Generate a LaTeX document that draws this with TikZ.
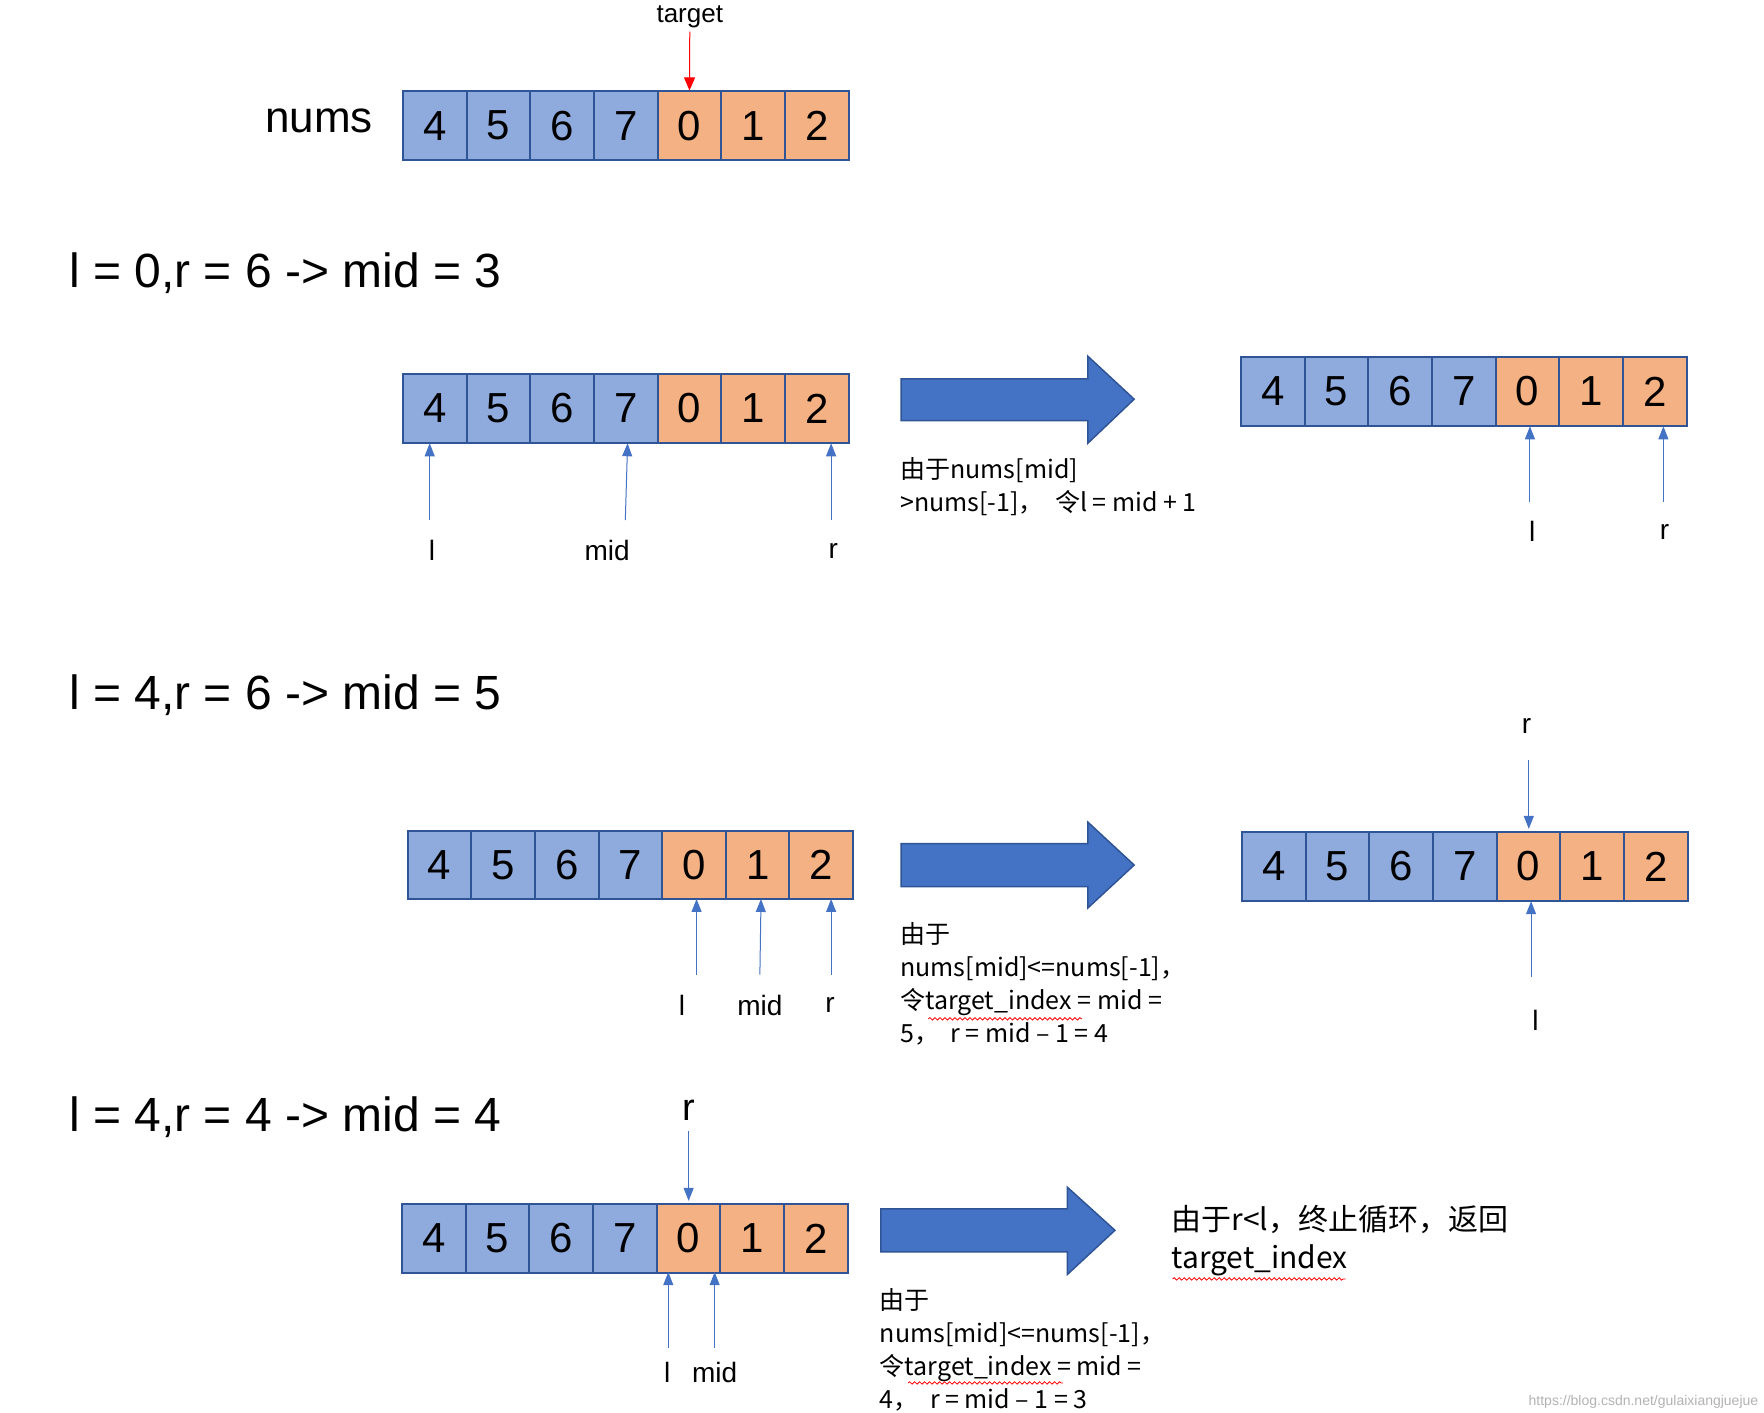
\documentclass[tikz,border=0pt]{standalone}
\usepackage{fontspec}
\setmainfont{Liberation Sans}
\newfontfamily\cjk{Noto Sans CJK SC}
\usetikzlibrary{arrows.meta,decorations.pathmorphing}
\definecolor{cb}{HTML}{8FAADC}
\definecolor{co}{HTML}{F4B183}
\definecolor{bd}{HTML}{2F5597}
\definecolor{ab}{HTML}{4472C4}
\newcommand{\myarr}[3]{%
  \foreach \v [count=\i from 0] in {4,5,6,7,0,1,2}{%
    \ifnum\i<4 \def\fc{cb}\else\def\fc{co}\fi
    \node[cell,fill=\fc,anchor=north west] (#1-\i) at ({#2-1.5+\i*56.3},#3) {\v};}}
\begin{document}
\begin{tikzpicture}[x=1.131pt,y=-1.131pt,
  cell/.style={draw=bd,line width=2pt,minimum width=63.7pt,minimum height=68.5pt,inner sep=0pt,font=\fontsize{42}{42}\selectfont},
  sa/.style={draw=ab,line width=1pt,-{Triangle[length=13pt,width=10pt]}},
  lab/.style={font=\fontsize{28}{28}\selectfont},
  head/.style={font=\fontsize{48}{48}\selectfont,anchor=west},
  note/.style={font=\cjk\fontsize{25}{33}\selectfont,anchor=north west,align=left,inner sep=0pt},
  big/.style={fill=ab,draw=bd,line width=1.5pt},
  wavy/.style={draw=red,line width=0.8pt,decorate,decoration={snake,amplitude=1.2pt,segment length=5pt}}]
\useasboundingbox (0,0) rectangle (1560,1249.3);
% row 0
\myarr{a}{357}{80}
\node[font=\fontsize{26}{26}\selectfont] (tg) at (610,15) {target};
\draw[red,line width=1pt,-{Triangle[length=13pt,width=11pt]}] (tg.south) -- (a-4.north);
\node[font=\fontsize{44}{44}\selectfont] (nm) at (282,107) {nums};
% row 1
\node[head] (h1) at (58,242) {l = 0,r = 6 -> mid = 3};
\myarr{b}{357}{330}
\myarr{c}{1098}{315}
\coordinate (b1l) at (380,460);\coordinate (b1m) at (553,460);\coordinate (b1r) at (735,460);
\draw[sa] (b1l) -- (380,392); \draw[sa] (b1m) -- (555,392); \draw[sa] (b1r) -- (735,392);
\node[lab] at (382,487) {l}; \node[lab] at (537,487) {mid}; \node[lab] at (737,487) {r};
\draw[big] (797,335) -- (962,335) -- (962,315) -- (1003,353) -- (962,392) -- (962,372) -- (797,372) -- cycle;
\node[note] (t1) at (796,404) {由于nums[mid]\\>nums[-1]，\ \ 令l = mid + 1};
\draw[sa] (1353,444) -- (1353,377); \draw[sa] (1471,444) -- (1471,377);
\node[lab] at (1355,470) {l}; \node[lab] at (1472,470) {r};
% row 2
\node[head] (h2) at (58,615) {l = 4,r = 6 -> mid = 5};
\myarr{d}{361}{734}
\myarr{e}{1099}{735}
\draw[sa] (616,862) -- (616,795); \draw[sa] (672,862) -- (673,795); \draw[sa] (735,862) -- (735,795);
\node[lab] at (603,889) {l}; \node[lab] at (672,889) {mid}; \node[lab] at (734,889) {r};
\draw[big] (797,746) -- (962,746) -- (962,727) -- (1003,765) -- (962,803) -- (962,784) -- (797,784) -- cycle;
\node[note] at (796,816) {由于\\nums[mid]<=nums[-1]，\\令target\_index = mid =\\5，\ \ r = mid – 1 = 4};
\draw[wavy] (821,901) -- (957,901);
\node[lab] (er) at (1350,642) {r};
\draw[sa] (1352,672) -- (1352,733);
\draw[sa] (1354,864) -- (1354,797);
\node[lab] at (1358,902) {l};
% row 3
\node[head] (h3) at (58,988) {l = 4,r = 4 -> mid = 4};
\myarr{f}{356}{1064}
\node[font=\fontsize{38}{38}\selectfont] at (609,982) {r};
\draw[sa] (609,1000) -- (609,1062);
\draw[sa] (591,1192) -- (591,1125); \draw[sa] (632,1192) -- (632,1125);
\node[lab] at (590,1214) {l}; \node[lab] at (632,1214) {mid};
\draw[big] (779,1069) -- (944,1069) -- (944,1050) -- (986,1088) -- (944,1127) -- (944,1107) -- (779,1107) -- cycle;
\node[note] at (778,1139) {由于\\nums[mid]<=nums[-1]，\\令target\_index = mid =\\4，\ \ r = mid – 1 = 3};
\draw[wavy] (803,1223) -- (940,1223);
\node[note,font=\cjk\fontsize{30}{38}\selectfont] at (1036,1066) {由于r<l，终止循环，返回\\target\_index};
\draw[wavy] (1037,1131) -- (1190,1131);
\node[anchor=east,text=gray!60,font=\fontsize{14}{14}\selectfont] at (1558,1240) {https://blog.csdn.net/gulaixiangjuejue};
\end{tikzpicture}
\end{document}
